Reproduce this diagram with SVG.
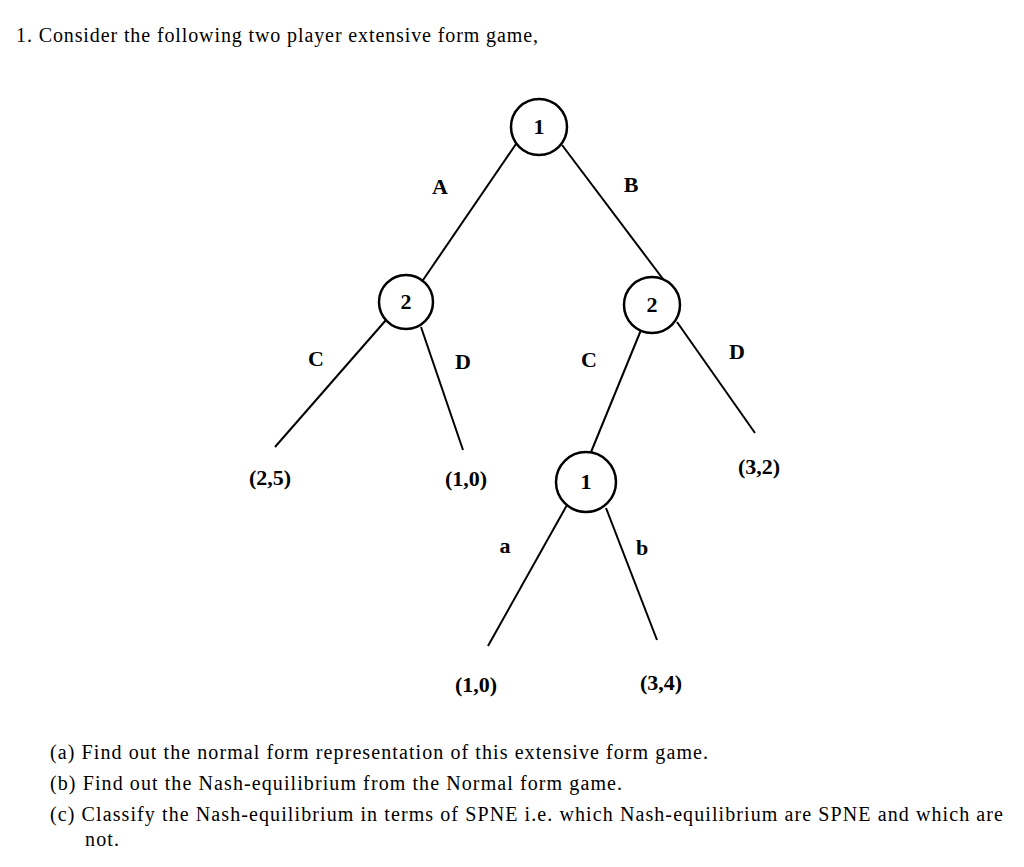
<svg xmlns="http://www.w3.org/2000/svg" width="1024" height="867" viewBox="0 0 1024 867">
<style>
.n{fill:#fff;stroke:#000;stroke-width:2.5}
.l{stroke:#000;stroke-width:2;fill:none}
.b{font-family:"Liberation Serif",serif;font-weight:bold;font-size:22px;text-anchor:middle}
.t{font-family:"Liberation Serif",serif;font-size:20px}
</style>
<rect width="1024" height="867" fill="#fff"/>
<text class="t" x="16" y="42" textLength="522" lengthAdjust="spacing">1.  Consider the following two player extensive form game,</text>
<g id="connectors">
<line class="l" x1="516" y1="144" x2="421" y2="283"/>
<line class="l" x1="562" y1="145" x2="666" y2="283"/>
<line class="l" x1="386" y1="320" x2="275" y2="447"/>
<line class="l" x1="421" y1="327" x2="463" y2="450"/>
<line class="l" x1="641" y1="330" x2="589" y2="457"/>
<line class="l" x1="677" y1="322" x2="755" y2="433"/>
<line class="l" x1="567" y1="505" x2="488" y2="646"/>
<line class="l" x1="606" y1="508" x2="657" y2="640"/>
</g>
<g id="n1"><circle class="n" cx="539" cy="127" r="28"/><text class="b" x="539" y="134" font-size="18">1</text></g>
<g id="n2l"><circle class="n" cx="406" cy="302" r="27"/><text class="b" x="406" y="309" font-size="18">2</text></g>
<g id="n2r"><circle class="n" cx="652" cy="305" r="28"/><text class="b" x="652" y="312" font-size="18">2</text></g>
<g id="n1b"><circle class="n" cx="586" cy="482" r="30"/><text class="b" x="586" y="489" font-size="18">1</text></g>
<g id="labels">
<text class="b" x="440" y="194">A</text>
<text class="b" x="631" y="192">B</text>
<text class="b" x="316" y="366">C</text>
<text class="b" x="463" y="369">D</text>
<text class="b" x="589" y="367">C</text>
<text class="b" x="737" y="359">D</text>
<text class="b" x="505" y="553">a</text>
<text class="b" x="642" y="555">b</text>
<text class="b" x="270" y="485">(2,5)</text>
<text class="b" x="466" y="486">(1,0)</text>
<text class="b" x="759" y="474">(3,2)</text>
<text class="b" x="476" y="692">(1,0)</text>
<text class="b" x="661" y="690">(3,4)</text>
</g>
<text class="t" x="50" y="759" textLength="658" lengthAdjust="spacing">(a)  Find out the normal form representation of this extensive form game.</text>
<text class="t" x="50" y="790" textLength="572" lengthAdjust="spacing">(b)  Find out the Nash-equilibrium from the Normal form game.</text>
<text class="t" x="50" y="821" textLength="953" lengthAdjust="spacing">(c)  Classify the Nash-equilibrium in terms of SPNE i.e.  which Nash-equilibrium are SPNE and which are</text>
<text class="t" x="85" y="846" textLength="34" lengthAdjust="spacing">not.</text>
</svg>
